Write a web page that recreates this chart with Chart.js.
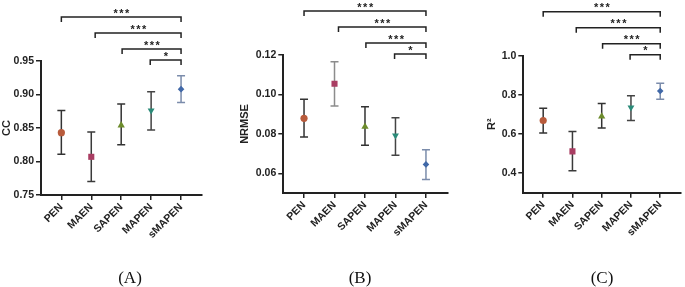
<!DOCTYPE html>
<html>
<head>
<meta charset="utf-8">
<script src="https://cdn.jsdelivr.net/npm/chart.js@4"></script>
<style>
  html, body { margin: 0; padding: 0; background: #fff; }
  #wrap { position: relative; width: 685px; height: 287px; overflow: hidden; }
  .panel { position: absolute; top: 0; height: 287px; }
  .tag { position: absolute; top: 269px; width: 60px; text-align: center;
         font: 17px "Liberation Serif", "Times New Roman", serif; color: #111; line-height: 18px; }
</style>
</head>
<body>
<div id="wrap">
  <div class="panel" style="left:0;width:228px"><canvas id="chartCC"></canvas></div>
  <div class="panel" style="left:238px;width:225px"><canvas id="chartNRMSE"></canvas></div>
  <div class="panel" style="left:485px;width:200px"><canvas id="chartR2"></canvas></div>
  <div class="tag" style="left:100px">(A)</div>
  <div class="tag" style="left:330px">(B)</div>
  <div class="tag" style="left:572px">(C)</div>
</div>
<script>
const categories = ["PEN", "MAEN", "SAPEN", "MAPEN", "sMAPEN"];

const ccMean = [0.843, 0.807, 0.854, 0.876, 0.908];
const ccLow = [0.811, 0.770, 0.825, 0.847, 0.888];
const ccHigh = [0.876, 0.844, 0.886, 0.904, 0.928];

const nrmseMean = [0.0879, 0.1054, 0.0836, 0.0792, 0.0645];
const nrmseLow = [0.0784, 0.0941, 0.0742, 0.0691, 0.0569];
const nrmseHigh = [0.0975, 0.1166, 0.0938, 0.0882, 0.0719];

const r2Mean = [0.669, 0.511, 0.690, 0.735, 0.820];
const r2Low = [0.605, 0.412, 0.631, 0.669, 0.778];
const r2High = [0.732, 0.613, 0.756, 0.796, 0.859];

const ccTicks = [0.75, 0.80, 0.85, 0.90, 0.95];
const nrmseTicks = [0.06, 0.08, 0.10, 0.12];
const r2Ticks = [0.4, 0.6, 0.8, 1.0];

// significance brackets: from category position -> sMAPEN
const bracketFrom = [0, 1.13, 2.03, 2.97];
const bracketTo = [4, 4, 4, 4];
const bracketLabels = ["***", "***", "***", "*"];

const markerColors = ["#b85b3c", "#a93d62", "#6d8c2c", "#2b8b79", "#4068a8"];
const markerStyles = ["circle", "rect", "triangle", "triangle", "rectRot"];
const markerRotation = [0, 0, 0, 180, 0];
const markerRadius = [3.6, 4.3, 4.2, 4, 3.3];

const INK = "#222";
const FONT = "'Liberation Sans', Arial, sans-serif";

const errorBars = {
  id: "errorBars",
  beforeDatasetsDraw(chart, args, opts) {
    const { ctx, scales: { x, y } } = chart;
    ctx.save();
    ctx.lineWidth = 1.5;
    opts.low.forEach((lo, i) => {
      const px = x.getPixelForValue(i);
      const yl = y.getPixelForValue(lo);
      const yh = y.getPixelForValue(opts.high[i]);
      ctx.strokeStyle = opts.colors[i];
      ctx.beginPath();
      ctx.moveTo(px, yl); ctx.lineTo(px, yh);
      ctx.moveTo(px - 4, yl); ctx.lineTo(px + 4, yl);
      ctx.moveTo(px - 4, yh); ctx.lineTo(px + 4, yh);
      ctx.stroke();
    });
    ctx.restore();
  },
};

const brackets = {
  id: "brackets",
  afterDraw(chart, args, opts) {
    const { ctx, chartArea, scales: { x } } = chart;
    ctx.save();
    ctx.strokeStyle = INK;
    ctx.fillStyle = INK;
    ctx.lineWidth = 1.5;
    ctx.font = "bold 11px " + FONT;
    ctx.textAlign = "center";
    ctx.textBaseline = "alphabetic";
    ctx.letterSpacing = "1.5px";
    bracketFrom.forEach((from, i) => {
      const x0 = x.getPixelForValue(from);
      const x1 = x.getPixelForValue(bracketTo[i]);
      const yy = chartArea.top + opts.levels[i];
      ctx.beginPath();
      ctx.moveTo(x0, yy + 5); ctx.lineTo(x0, yy); ctx.lineTo(x1, yy); ctx.lineTo(x1, yy + 5);
      ctx.stroke();
      ctx.fillText(bracketLabels[i], (x0 + x1) / 2 + 1, yy - 0.5);
    });
    ctx.restore();
  },
};

function makePanel(p) {
  const ctx = document.getElementById(p.canvas).getContext("2d");
  return new Chart(ctx, {
    type: "scatter",
    data: {
      datasets: [{
        data: p.mean.map((v, i) => ({ x: i, y: v })),
        backgroundColor: markerColors,
        borderColor: markerColors,
        pointStyle: markerStyles,
        rotation: markerRotation,
        pointRadius: markerRadius,
        pointHoverRadius: markerRadius,
        borderWidth: 0,
      }],
    },
    options: {
      responsive: true,
      maintainAspectRatio: false,
      animation: false,
      layout: { padding: { top: p.top, right: p.right, left: 0, bottom: 0 } },
      plugins: {
        legend: { display: false },
        tooltip: { enabled: false },
        errorBars: { low: p.low, high: p.high, colors: p.errColors },
        brackets: { levels: [-44, -28, -12, -1] },
      },
      scales: {
        x: {
          type: "linear",
          min: -0.68,
          max: 4.7,
          afterBuildTicks: (s) => { s.ticks = categories.map((c, i) => ({ value: i })); },
          afterFit: (s) => { s.height = p.xHeight; s.paddingLeft = 0; s.paddingRight = 0; },
          ticks: {
            callback: (v) => categories[v],
            autoSkip: false,
            minRotation: 45,
            maxRotation: 45,
            padding: 1,
            color: INK,
            font: { family: FONT, size: 10.5, weight: "bold" },
          },
          grid: { drawOnChartArea: false, drawTicks: true, tickLength: 5, color: INK, lineWidth: 1.5 },
          border: { color: INK, width: 2 },
        },
        y: {
          min: p.yMin,
          max: p.yMax,
          afterBuildTicks: (s) => { s.ticks = p.ticks.map((v) => ({ value: v })); },
          afterFit: (s) => { s.width = p.yWidth; s.paddingTop = 0; s.paddingBottom = 0; },
          ticks: {
            callback: (v) => v.toFixed(p.decimals),
            padding: 2,
            color: INK,
            font: { family: FONT, size: 10.5, weight: "bold" },
          },
          grid: { drawOnChartArea: false, drawTicks: true, tickLength: 5, color: INK, lineWidth: 1.5 },
          border: { color: INK, width: 2 },
          title: {
            display: true,
            text: p.title,
            color: INK,
            padding: { top: 0, bottom: 0 },
            font: { family: FONT, size: 11, weight: "bold" },
          },
        },
      },
    },
    plugins: [errorBars, brackets],
  });
}

makePanel({
  canvas: "chartCC", title: "CC", mean: ccMean, low: ccLow, high: ccHigh,
  ticks: ccTicks, yMin: 0.75, yMax: 0.95, decimals: 2,
  errColors: ["#333", "#3a3a3a", "#333", "#444", "#7b8cab"],
  top: 61, right: 26, yWidth: 41, xHeight: 92,
});
makePanel({
  canvas: "chartNRMSE", title: "NRMSE", mean: nrmseMean, low: nrmseLow, high: nrmseHigh,
  ticks: nrmseTicks, yMin: 0.05, yMax: 0.12, decimals: 2,
  errColors: ["#333", "#8c8c8c", "#333", "#444", "#7b8cab"],
  top: 55, right: 15.7, yWidth: 45.3, xHeight: 94,
});
makePanel({
  canvas: "chartR2", title: "R²", mean: r2Mean, low: r2Low, high: r2High,
  ticks: r2Ticks, yMin: 0.3, yMax: 1.0, decimals: 1,
  errColors: ["#333", "#3a3a3a", "#333", "#444", "#7b8cab"],
  top: 55.7, right: 1, yWidth: 38.3, xHeight: 94.3,
});
</script>
</body>
</html>
